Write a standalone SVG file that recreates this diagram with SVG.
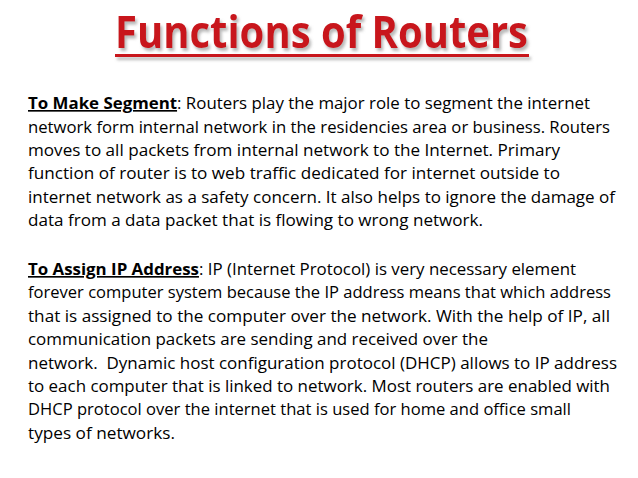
<svg xmlns="http://www.w3.org/2000/svg" width="638" height="478" viewBox="0 0 638 478">
<defs>
<filter id="sh" x="-5%" y="-20%" width="110%" height="150%"><feDropShadow dx="2" dy="3" stdDeviation="1.5" flood-color="#888" flood-opacity="0.6"/></filter>
</defs>
<style>
.t{font-family:"Open Sans","Liberation Sans",sans-serif;font-size:16.5px;fill:#000}
.b{font-weight:bold;text-decoration:underline}
.h{font-family:"Open Sans","Liberation Sans",sans-serif;font-size:44px;font-weight:bold;fill:#c8161d}
</style>
<rect width="638" height="478" fill="#fff"/>
<g id="title" filter="url(#sh)">
<text class="h" x="115" y="48" textLength="413" lengthAdjust="spacingAndGlyphs">Functions of Routers</text>
<rect x="115" y="54" width="414" height="3" fill="#c8161d"/>
</g>
<g id="p1" class="t">
<text x="28" y="109" textLength="562" lengthAdjust="spacingAndGlyphs"><tspan class="b">To Make Segment</tspan>: Routers play the major role to segment the internet</text>
<text x="28" y="133" textLength="582" lengthAdjust="spacingAndGlyphs">network form internal network in the residencies area or business. Routers</text>
<text x="28" y="156" textLength="532" lengthAdjust="spacingAndGlyphs">moves to all packets from internal network to the Internet. Primary</text>
<text x="28" y="179" textLength="532" lengthAdjust="spacingAndGlyphs">function of router is to web traffic dedicated for internet outside to</text>
<text x="28" y="203" textLength="587" lengthAdjust="spacingAndGlyphs">internet network as a safety concern. It also helps to ignore the damage of</text>
<text x="28" y="226" textLength="455" lengthAdjust="spacingAndGlyphs">data from a data packet that is flowing to wrong network.</text>
</g>
<g id="p2" class="t">
<text x="28" y="275" textLength="548" lengthAdjust="spacingAndGlyphs"><tspan class="b">To Assign IP Address</tspan>: IP (Internet Protocol) is very necessary element</text>
<text x="28" y="298" textLength="583" lengthAdjust="spacingAndGlyphs">forever computer system because the IP address means that which address</text>
<text x="28" y="322" textLength="582" lengthAdjust="spacingAndGlyphs">that is assigned to the computer over the network. With the help of IP, all</text>
<text x="28" y="345" textLength="460" lengthAdjust="spacingAndGlyphs">communication packets are sending and received over the</text>
<text x="28" y="369" textLength="589" lengthAdjust="spacingAndGlyphs" xml:space="preserve">network.  Dynamic host configuration protocol (DHCP) allows to IP address</text>
<text x="28" y="392" textLength="582" lengthAdjust="spacingAndGlyphs">to each computer that is linked to network. Most routers are enabled with</text>
<text x="28" y="415" textLength="543" lengthAdjust="spacingAndGlyphs">DHCP protocol over the internet that is used for home and office small</text>
<text x="28" y="439" textLength="147" lengthAdjust="spacingAndGlyphs">types of networks.</text>
</g>
</svg>
